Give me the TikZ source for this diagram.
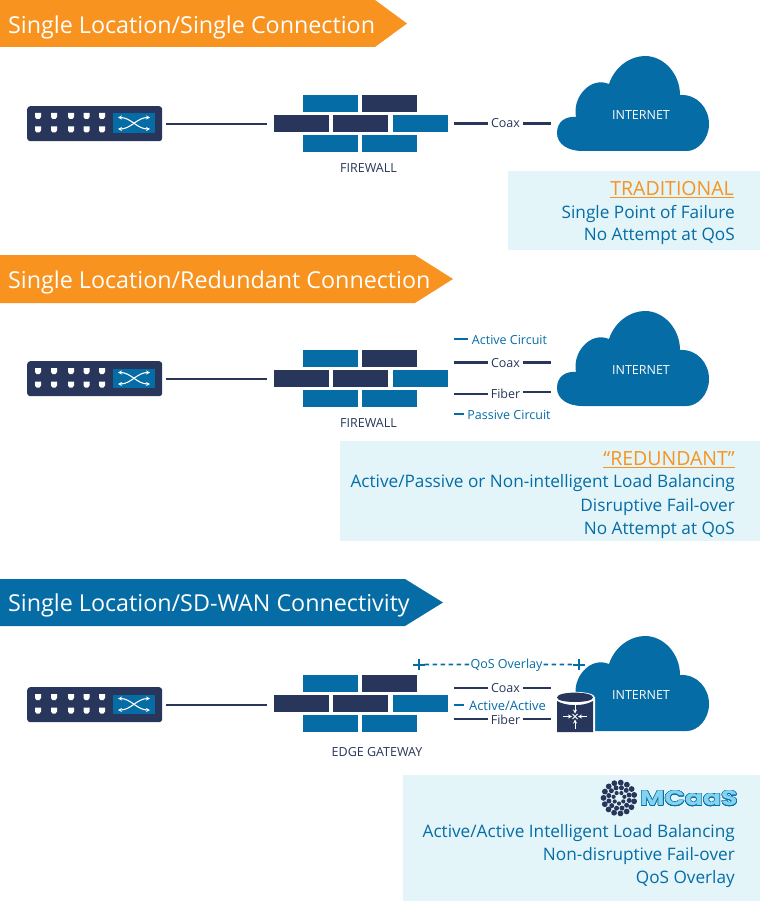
\documentclass[tikz,border=0pt]{standalone}
\usepackage{fontspec}
\usepackage{contour}
\setmainfont{Open Sans}
\newfontfamily\logofont{Poppins}
\usetikzlibrary{arrows.meta,shapes.misc}
\definecolor{navy}{HTML}{27365A}
\definecolor{seablue}{HTML}{056CA5}
\definecolor{amber}{HTML}{F7931E}
\definecolor{pale}{HTML}{E3F5F9}
\definecolor{logoblue}{HTML}{84D3EF}
\tikzset{
  title/.style={anchor=west,text=white,font=\fontsize{23.3}{28}\selectfont,inner sep=0pt},
  boxline/.style={anchor=east,text=seablue,font=\fontsize{17.2}{20}\selectfont,inner sep=0pt},
  boxhead/.style={anchor=east,text=amber,font=\fontsize{19.5}{22}\selectfont,inner sep=0pt},
  small/.style={text=navy,font=\fontsize{12.5}{14}\selectfont,inner sep=3pt},
  smallblue/.style={text=seablue,font=\fontsize{12.5}{14}\selectfont,inner sep=3pt},
  wire/.style={draw=navy,line width=2.2pt},
  bluewire/.style={draw=seablue,line width=2.4pt},
  qosline/.style={draw=seablue,line width=1.8pt,dash pattern=on 4.5pt off 3.5pt},
  brick/.style={minimum width=55pt,minimum height=17pt,inner sep=0pt,anchor=north west},
  plusmark/.style={cross out,draw=seablue,line width=2pt,rotate=45,minimum size=6pt,inner sep=0pt},
  swaparrow/.style={white,line width=1.1pt,{Stealth[length=4pt,width=4pt]}-{Stealth[length=4pt,width=4pt]}},
  pics/firewall/.style={code={
    \node[brick,fill=seablue] (-t1) at (29,0) {};
    \node[brick,fill=navy] (-t2) at (88,0) {};
    \node[brick,fill=navy] (-m1) at (0,20) {};
    \node[brick,fill=navy] (-m2) at (59.5,20) {};
    \node[brick,fill=seablue] (-m3) at (119,20) {};
    \node[brick,fill=seablue] (-b1) at (29,40) {};
    \node[brick,fill=seablue] (-b2) at (88,40) {};
  }},
  pics/panel/.style={code={
    \node[fill=navy,rounded corners=3pt,minimum width=135pt,minimum height=35pt,inner sep=0pt,anchor=north west] (-body) at (0,0) {};
    \fill[seablue] (86,7.5) rectangle (128,27);
    \foreach \col in {11,27,44,59.5,75}
      \foreach \row in {10,23.5}
        \fill[white] (\col-3,\row-3) -- (\col+3,\row-3) -- (\col+3,\row+1) -- (\col+1.5,\row+3) -- (\col-1.5,\row+3) -- (\col-3,\row+1) -- cycle;
    \draw[swaparrow] (91,11.5) .. controls (104,11.5) and (110,23) .. (123,23);
    \draw[swaparrow] (91,23) .. controls (104,23) and (110,11.5) .. (123,11.5);
  }},
  pics/cloud/.style={code={
    \fill[seablue] (25,95) .. controls (11,95) and (0,88) .. (0,77)
      .. controls (0,66) and (8,60) .. (19,61)
      .. controls (15,42) and (33,20) .. (52,28)
      .. controls (58,10) and (74,0) .. (88,0)
      .. controls (107,0) and (123,18) .. (123,39)
      .. controls (140,38) and (152,52) .. (152,68)
      .. controls (152,84) and (140,95) .. (130,95) -- cycle;
    \node[text=white,font=\fontsize{12.5}{14}\selectfont,inner sep=0pt] (-label) at (84,59.5) {INTERNET};
  }}
}

\begin{document}
\begin{tikzpicture}[x=1pt,y=-1pt]
  \useasboundingbox (0,0) rectangle (760,901);

  % first row
  \fill[amber] (0,0) -- (375,0) -- (407,23.5) -- (375,47) -- (0,47) -- cycle;
  \node[title] (title1) at (8,27) {Single Location/Single Connection};

  \pic (sw1) at (27,106) {panel};
  \pic (fw1) at (273.5,95) {firewall};
  \pic (net1) at (557,56) {cloud};
  \draw[wire,shorten <=4pt,shorten >=6.5pt] (sw1-body) -- (sw1-body -| fw1-m1.west);
  \node[small] (fwname1) at (368.5,168.5) {FIREWALL};

  \node[small] (coax1) at (505.5,123.5) {Coax};
  \coordinate (coax1a) at (454,123.5);
  \coordinate (coax1b) at (551,123.5);
  \draw[wire] (coax1a) -- (coax1.west);
  \draw[wire] (coax1.east) -- (coax1b);

  \fill[pale] (508,171) rectangle (760,250);
  \node[boxhead] (head1) at (734,190) {\underline{TRADITIONAL}};
  \node[boxline] (line1a) at (735,213.5) {Single Point of Failure};
  \node[boxline] (line1b) at (735,236.5) {No Attempt at QoS};

  % second row
  \fill[amber] (0,255) -- (415,255) -- (453,279) -- (415,303) -- (0,303) -- cycle;
  \node[title] (title2) at (8,282.5) {Single Location/Redundant Connection};

  \pic (sw2) at (27,361) {panel};
  \pic (fw2) at (273.5,350) {firewall};
  \pic (net2) at (557,311) {cloud};
  \draw[wire,shorten <=4pt,shorten >=6.5pt] (sw2-body) -- (sw2-body -| fw2-m1.west);
  \node[small] (fwname2) at (368.5,423.5) {FIREWALL};

  \node[smallblue] (act2) at (509.5,339.5) {Active Circuit};
  \coordinate (act2a) at (454,339);
  \coordinate (act2b) at (468,339);
  \draw[bluewire] (act2a) -- (act2b);
  \node[small] (coax2) at (505.5,363) {Coax};
  \coordinate (coax2a) at (454,362.5);
  \coordinate (coax2b) at (551,362.5);
  \draw[wire] (coax2a) -- (coax2.west |- coax2a);
  \draw[wire] (coax2.east |- coax2b) -- (coax2b);
  \node[small] (fiber2) at (505.5,394) {Fiber};
  \coordinate (fiber2a) at (454,394);
  \coordinate (fiber2b) at (551,392);
  \draw[wire] (fiber2a) -- (fiber2.west |- fiber2a);
  \draw[wire] (fiber2.east |- fiber2b) -- (fiber2b);
  \node[smallblue] (pas2) at (509,415) {Passive Circuit};
  \coordinate (pas2a) at (454,414);
  \coordinate (pas2b) at (464,414);
  \draw[bluewire] (pas2a) -- (pas2b);

  \fill[pale] (340,441) rectangle (760,541);
  \node[boxhead] (head2) at (735,459.5) {\underline{``REDUNDANT''}};
  \node[boxline] (line2a) at (735,483.5) {Active/Passive or Non-intelligent Load Balancing};
  \node[boxline] (line2b) at (735,507.5) {Disruptive Fail-over};
  \node[boxline] (line2c) at (735,530.5) {No Attempt at QoS};

  % third row
  \fill[seablue] (0,579) -- (405,579) -- (443,602.5) -- (405,626) -- (0,626) -- cycle;
  \node[title] (title3) at (8,605.5) {Single Location/SD-WAN Connectivity};

  \pic (sw3) at (27,687) {panel};
  \pic (fw3) at (273.5,675) {firewall};
  \pic (net3) at (557,636) {cloud};
  \draw[wire,shorten <=4pt,shorten >=6.5pt] (sw3-body) -- (sw3-body -| fw3-m1.west);
  \node[small] (fwname3) at (377,752.5) {EDGE GATEWAY};

  \node[plusmark] (qos3a) at (419,664.5) {};
  \node[plusmark] (qos3b) at (579,664.5) {};
  \node[smallblue,inner sep=1pt] (qos3) at (506.5,665) {QoS Overlay};
  \draw[qosline] (qos3a) -- (qos3.west |- qos3a);
  \draw[qosline] (qos3.east |- qos3b) -- (qos3b);

  \node[small] (coax3) at (505.5,688) {Coax};
  \coordinate (coax3a) at (454,688);
  \coordinate (coax3b) at (551,688);
  \draw[wire] (coax3a) -- (coax3.west);
  \draw[wire] (coax3.east) -- (coax3b);
  \node[smallblue,font=\fontsize{13}{14}\selectfont,inner sep=1pt] (act3) at (507.5,705.5) {Active/Active};
  \coordinate (act3a) at (454,705);
  \coordinate (act3b) at (464,705);
  \draw[bluewire] (act3a) -- (act3b);
  \node[small] (fiber3) at (505.5,719.5) {Fiber};
  \coordinate (fiber3a) at (454,719);
  \coordinate (fiber3b) at (551,719);
  \draw[wire] (fiber3a) -- (fiber3.west |- fiber3a);
  \draw[wire] (fiber3.east |- fiber3b) -- (fiber3b);

  % mcaas drum
  \fill[white] (555,697.5) .. controls (555,690) and (595,690) .. (595,697.5) -- (595,733) -- (555,733) -- cycle;
  \fill[navy] (557,701) .. controls (566,706.5) and (584,706.5) .. (593,701) -- (593,732) -- (557,732) -- cycle;
  \fill[navy] (557,697.5) .. controls (557,691) and (593,691) .. (593,697.5) .. controls (593,703.5) and (557,703.5) .. (557,697.5) -- cycle;
  \foreach \ax/\ay in {0/-1,0/1,-1/0,1/0}
    \draw[white,line width=.9pt,-{Stealth[length=4pt,width=4pt]}] (575+12*\ax,716.5+12*\ay) -- (575+3*\ax,716.5+3*\ay);
  \draw[white,line width=.8pt] (572.5,714) -- (577.5,719) (572.5,719) -- (577.5,714);

  \fill[pale] (403,775) rectangle (760,901);
  \foreach \rr/\nn/\dd in {15.5/15/2.9,10.5/12/2.5,5.5/7/2.1}
    \foreach \ii in {1,...,\nn}
      \fill[navy] ({619+\rr*cos(\ii*360/\nn+\rr*7)},{798+\rr*sin(\ii*360/\nn+\rr*7)}) circle (\dd);
  \node[anchor=west,inner sep=0pt,font=\logofont\bfseries\fontsize{21}{24}\selectfont] (logo3) at (640,798.5) {\contourlength{.5pt}\scalebox{1.27}[1]{\contour{seablue}{\textcolor{logoblue}{MCaaS}}}};
  \node[boxline] (line3a) at (735,833.5) {Active/Active Intelligent Load Balancing};
  \node[boxline] (line3b) at (735,856.5) {Non-disruptive Fail-over};
  \node[boxline] (line3c) at (735,879.5) {QoS Overlay};
\end{tikzpicture}
\end{document}
